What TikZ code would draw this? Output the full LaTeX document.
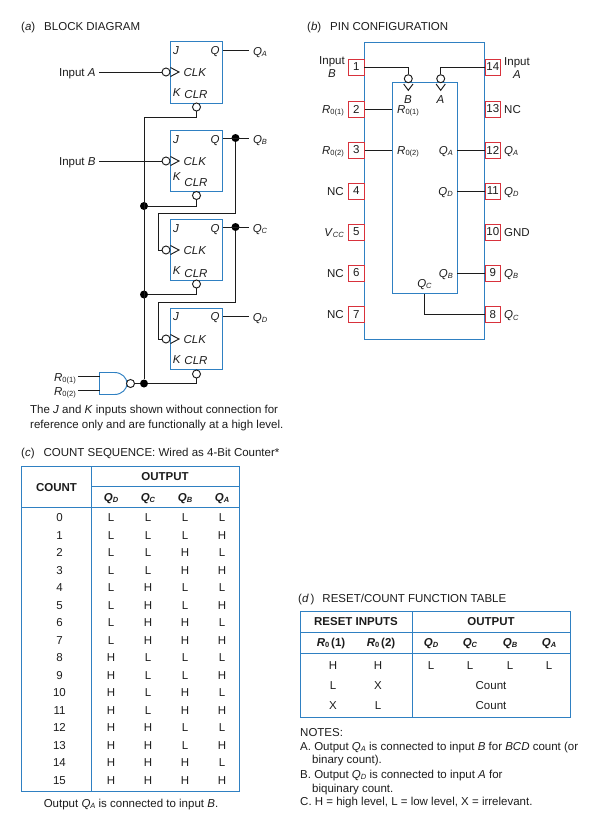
\documentclass[tikz,border=0pt]{standalone}
\usepackage{fontspec}
\setmainfont{Liberation Sans}
\definecolor{boxblue}{HTML}{2F80C2}
\definecolor{pinred}{HTML}{D8323C}
\definecolor{ink}{HTML}{1C1C1C}
\newcommand{\subq}[2]{\textit{#1}\raisebox{-1.8pt}{\fontsize{7.5}{8}\selectfont\textit{#2}}}
\newcommand{\subr}[1]{\textit{R}\raisebox{-1.8pt}{\fontsize{7.5}{8}\selectfont #1}}
\tikzset{
    txt/.style={inner sep=0pt, anchor=base, text=ink, font=\fontsize{11.5}{13}\selectfont},
    txtl/.style={txt, anchor=base west},
    txtr/.style={txt, anchor=base east},
    head/.style={txt, font=\fontsize{11.5}{13}\selectfont\bfseries},
    ffbox/.style={draw=boxblue, line width=0.95pt, minimum width=52.5pt, minimum height=61.5pt, inner sep=0pt},
    pinbox/.style={draw=pinred, line width=1pt, minimum width=15.5pt, minimum height=16pt, inner sep=0pt, text=ink, font=\fontsize{11.5}{13}\selectfont},
    bub/.style={circle, draw=ink, fill=white, line width=0.95pt, minimum size=8pt, inner sep=0pt},
    jdot/.style={circle, fill=black, minimum size=8pt, inner sep=0pt},
    wire/.style={draw=ink, line width=0.95pt},
    grid/.style={draw=boxblue, line width=0.95pt}
}
\begin{document}
\begin{tikzpicture}[x=1pt,y=-1pt]
    \useasboundingbox (0,0) rectangle (590,815);

    % (a) block diagram
    \node[txtl] (tita) at (21,30.5) {(\textit{a})\hspace{9pt}BLOCK DIAGRAM};
    \node[ffbox] (ffa) at (196.25,72.25) {};
    \node[ffbox] (ffb) at (196.25,161) {};
    \node[ffbox] (ffc) at (196.25,250) {};
    \node[ffbox] (ffd) at (196.25,339) {};
    \foreach \f/\j/\c/\k/\l in {a/54/76/96/98,b/143/165/180/186,c/232/254/274/277,d/320/343/363/364} {
        \node[txt] (j\f) at (176,\j) {\textit{J}};
        \node[txt] (q\f) at (215,\j) {\textit{Q}};
        \node[txt] (ck\f) at (195,\c) {\textit{CLK}};
        \node[txt] (k\f) at (177,\k) {\textit{K}};
        \node[txt] (cl\f) at (196,\l) {\textit{CLR}};
    }
    \node[bub] (bcka) at (166,72) {};
    \node[bub] (bckb) at (166,161) {};
    \node[bub] (bckc) at (166,250) {};
    \node[bub] (bckd) at (166,339) {};
    \node[bub] (bcla) at (196.5,107) {};
    \node[bub] (bclb) at (196.5,195.5) {};
    \node[bub] (bclc) at (196.5,284) {};
    \node[bub] (bcld) at (196.5,374) {};
    \foreach \f in {a,b,c,d} {
        \draw[ink, line width=0.95pt] ([yshift=4.5pt]bck\f.east) -- ([xshift=8.5pt]bck\f.east) -- ([yshift=-4.5pt]bck\f.east);
    }
    % outputs
    \node[txt] (laba) at (260,55) {\subq{Q}{A}};
    \node[txt] (labb) at (260,143) {\subq{Q}{B}};
    \node[txt] (labc) at (260,232) {\subq{Q}{C}};
    \node[txt] (labd) at (260,321) {\subq{Q}{D}};
    \coordinate (enda) at (249,50);
    \coordinate (endb) at (249,138);
    \coordinate (endc) at (249,227);
    \coordinate (endd) at (249,316);
    \node[jdot] (dotb) at (235.5,138) {};
    \node[jdot] (dotc) at (235.5,227) {};
    \draw[wire] (ffa.east |- enda) -- (enda);
    \draw[wire] (ffb.east |- endb) -- (endb);
    \draw[wire] (ffc.east |- endc) -- (endc);
    \draw[wire] (ffd.east |- endd) -- (endd);
    % clock inputs
    \node[txtr] (ina) at (95.7,76) {Input \textit{A}};
    \node[txtr] (inb) at (95.7,165) {Input \textit{B}};
    \coordinate (ina0) at (99,72);
    \coordinate (inb0) at (99,161);
    \draw[wire] (ina0) -- (bcka);
    \coordinate (turnb) at (158,213);
    \coordinate (turnc) at (158,302);
    \draw[wire] (dotb) |- (turnb) |- (bckc);
    \draw[wire] (dotc) |- (turnc) |- (bckd);
    % reset bus
    \coordinate (bustop) at (144,117);
    \node[jdot] (busb) at (144,206) {};
    \node[jdot] (busc) at (144,294.5) {};
    \node[jdot] (busd) at (144,383.5) {};
    \draw[wire] (bcla) |- (bustop) -- (busd);
    \draw[wire] (bclb) |- (busb);
    \draw[wire] (bclc) |- (busc);
    \draw[wire] (bcld) |- (busd);
    \draw[wire] (inb0) -- (bckb);
    % nand
    \coordinate (nandul) at (99.5,372.5);
    \coordinate (nandll) at (99.5,394.5);
    \draw[boxblue, line width=0.95pt] (nandul) -- (114.5,372.5) .. controls (122,372.5) and (127,378) .. (127,383.5) .. controls (127,389) and (122,394.5) .. (114.5,394.5) -- (nandll) -- cycle;
    \node[bub] (bnand) at (130.5,383.5) {};
    \draw[wire] (bnand) -- (busd);
    \node[txt] (rone) at (65,381) {\subr{0(1)}};
    \node[txt] (rtwo) at (65,395) {\subr{0(2)}};
    \coordinate (ronet) at (78,376);
    \coordinate (rtwot) at (78,390);
    \draw[wire] (ronet) -- (ronet -| nandul);
    \draw[wire] (rtwot) -- (rtwot -| nandul);
    \node[txtl] (cap1) at (30,413) {The \textit{J} and \textit{K} inputs shown without connection for};
    \node[txtl] (cap2) at (30,428) {reference only and are functionally at a high level.};

    % (b) pin configuration
    \node[txtl] (titb) at (307,30.5) {(\textit{b})\hspace{9pt}PIN CONFIGURATION};
    \node[draw=boxblue, line width=0.95pt, minimum width=120pt, minimum height=297pt, inner sep=0pt] (chip) at (424.5,191) {};
    \node[draw=boxblue, line width=0.95pt, minimum width=65pt, minimum height=210.5pt, inner sep=0pt] (core) at (424.5,188) {};
    \foreach \n/\y/\t in {1/67/,2/109/\subr{0(1)},3/150/\subr{0(2)},4/191/NC,5/232/\subq{V}{CC},6/273/NC,7/314.5/NC} {
        \node[pinbox, anchor=east] (pin\n) at (364.5,\y) {\n};
        \node[txtr] (pl\n) at (344,\y+4) {\t};
    }
    \foreach \n/\y/\t in {14/67/,13/109/NC,12/150/\subq{Q}{A},11/191/\subq{Q}{D},10/232/GND,9/273/\subq{Q}{B},8/314.5/\subq{Q}{C}} {
        \node[pinbox, anchor=west] (pin\n) at (484.5,\y) {\n};
        \node[txtl] (pl\n) at (504,\y+4) {\t};
    }
    \node[txt] (inpb1) at (332,64) {Input};
    \node[txt] (inpb2) at (332,77.5) {\textit{B}};
    \node[txtl] (inpa1) at (504,65) {Input};
    \node[txt] (inpa2) at (517,78.5) {\textit{A}};
    \node[bub] (bubb) at (408.3,78.7) {};
    \node[bub] (buba) at (440.7,78.7) {};
    \draw[wire] (chip.west |- pin1) -| (bubb);
    \draw[wire] (chip.east |- pin14) -| (buba);
    \draw[ink, line width=0.95pt] (403.7,84) -- (408.3,90.3) -- (413,84);
    \draw[ink, line width=0.95pt] (436.1,84) -- (440.7,90.3) -- (445.3,84);
    \node[txt] (lbb) at (408,103) {\textit{B}};
    \node[txt] (lba) at (440.5,103) {\textit{A}};
    \node[txtl] (lr1) at (397,113) {\subr{0(1)}};
    \node[txtl] (lr2) at (397,154) {\subr{0(2)}};
    \node[txtr] (lqa) at (453,154) {\subq{Q}{A}};
    \node[txtr] (lqd) at (453,195) {\subq{Q}{D}};
    \node[txtr] (lqb) at (453,277) {\subq{Q}{B}};
    \node[txt] (lqc) at (424.5,287) {\subq{Q}{C}};
    \draw[wire] (pin2.east) -- (core.west |- pin2);
    \draw[wire] (pin3.east) -- (core.west |- pin3);
    \draw[wire] (core.east |- pin12) -- (pin12.west);
    \draw[wire] (core.east |- pin11) -- (pin11.west);
    \draw[wire] (core.east |- pin9) -- (pin9.west);
    \draw[wire] (core.south) |- (pin8.west);

    % (c) count sequence
    \node[txtl] (titc) at (21,456.5) {(\textit{c})\hspace{9pt}COUNT SEQUENCE: Wired as 4-Bit Counter*};
    \coordinate (cnw) at (21.5,466);
    \coordinate (cse) at (239,791);
    \coordinate (cmid) at (91.5,466);
    \draw[grid] (cnw) rectangle (cse);
    \draw[grid] (cmid) -- (cmid |- cse);
    \draw[grid] (91.5,486) -- (239,486);
    \draw[grid] (21.5,507.5) -- (239,507.5);
    \node[head] (ccount) at (56.5,491) {COUNT};
    \node[head] (coutput) at (165,480) {OUTPUT};
    \node[head] (cqd) at (111,501) {\subq{Q}{D}};
    \node[head] (cqc) at (148,501) {\subq{Q}{C}};
    \node[head] (cqb) at (185,501) {\subq{Q}{B}};
    \node[head] (cqa) at (222,501) {\subq{Q}{A}};
    \foreach \n/\d/\c/\b/\a in {0/L/L/L/L,1/L/L/L/H,2/L/L/H/L,3/L/L/H/H,4/L/H/L/L,5/L/H/L/H,6/L/H/H/L,7/L/H/H/H,8/H/L/L/L,9/H/L/L/H,10/H/L/H/L,11/H/L/H/H,12/H/H/L/L,13/H/H/L/H,14/H/H/H/L,15/H/H/H/H} {
        \node[txt] (cnt\n) at (59.5,{521.5+17.53*\n}) {\n};
        \node[txt] (rd\n) at (111,{521.5+17.53*\n}) {\d};
        \node[txt] (rc\n) at (148,{521.5+17.53*\n}) {\c};
        \node[txt] (rb\n) at (185,{521.5+17.53*\n}) {\b};
        \node[txt] (ra\n) at (222,{521.5+17.53*\n}) {\a};
    }
    \node[txt] (cfoot) at (131,807) {Output \subq{Q}{A} is connected to input \textit{B}.};

    % (d) function table
    \node[txtl] (titd) at (298,602) {(\textit{d}\,)\hspace{8pt}RESET/COUNT FUNCTION TABLE};
    \coordinate (dnw) at (300,611);
    \coordinate (dse) at (570.5,717.3);
    \draw[grid] (dnw) rectangle (dse);
    \draw[grid] (412.3,611) -- (412.3,717.3);
    \draw[grid] (300,632) -- (570.5,632);
    \draw[grid] (300,653) -- (570.5,653);
    \node[head] (dreset) at (356,625) {RESET INPUTS};
    \node[head] (doutput) at (491,625) {OUTPUT};
    \node[head] (drone) at (331,646) {\subr{0}\,(1)};
    \node[head] (drtwo) at (381,646) {\subr{0}\,(2)};
    \node[head] (dqd) at (431,646) {\subq{Q}{D}};
    \node[head] (dqc) at (470,646) {\subq{Q}{C}};
    \node[head] (dqb) at (510,646) {\subq{Q}{B}};
    \node[head] (dqa) at (549,646) {\subq{Q}{A}};
    \node[txt] (h11) at (333,669) {H};
    \node[txt] (h12) at (378,669) {H};
    \node[txt] (h13) at (431,669) {L};
    \node[txt] (h14) at (470,669) {L};
    \node[txt] (h15) at (510,669) {L};
    \node[txt] (h16) at (549,669) {L};
    \node[txt] (h21) at (333,689) {L};
    \node[txt] (h22) at (378,689) {X};
    \node[txt] (h23) at (491,689) {Count};
    \node[txt] (h31) at (333,709) {X};
    \node[txt] (h32) at (378,709) {L};
    \node[txt] (h33) at (491,709) {Count};
    \node[txtl] (note0) at (300,736) {NOTES:};
    \node[txtl] (note1) at (300,750) {A. Output \subq{Q}{A} is connected to input \textit{B} for \textit{BCD} count (or};
    \node[txtl] (note2) at (312,763) {binary count).};
    \node[txtl] (note3) at (300,778) {B. Output \subq{Q}{D} is connected to input \textit{A} for};
    \node[txtl] (note4) at (312,792) {biquinary count.};
    \node[txtl] (note5) at (300,805) {C. H = high level, L = low level, X = irrelevant.};
\end{tikzpicture}
\end{document}
